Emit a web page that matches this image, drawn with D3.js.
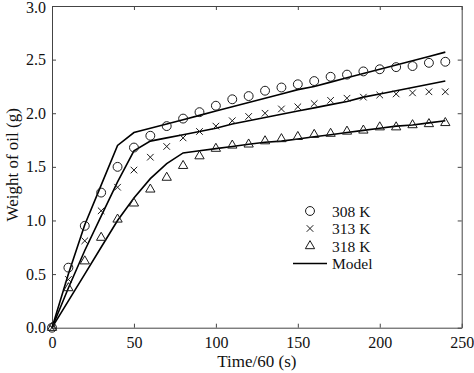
<!DOCTYPE html>
<html>
<head>
<meta charset="utf-8">
<script src="https://cdn.jsdelivr.net/npm/d3@7"></script>
<style>
  body { margin: 0; background: #fff; }
  svg text { font-family: "Liberation Serif", "DejaVu Serif", serif; fill: #111; }
</style>
</head>
<body>
<div id="area"></div>
<script>
var width = 474, height = 373;
var margin = {left: 52, top: 6, right: 12, bottom: 45};

// time points (min)
var times = [0, 10, 20, 30, 40, 50, 60, 70, 80, 90, 100, 110, 120, 130, 140, 150, 160, 170, 180, 190, 200, 210, 220, 230, 240];

// measured weight of oil (g)
var exp308 = [0, 0.56, 0.95, 1.26, 1.50, 1.68, 1.79, 1.88, 1.95, 2.01, 2.07, 2.13, 2.16, 2.21, 2.24, 2.27, 2.30, 2.34, 2.36, 2.39, 2.41, 2.43, 2.44, 2.47, 2.48];
var exp313 = [0, 0.45, 0.81, 1.09, 1.31, 1.47, 1.59, 1.69, 1.77, 1.83, 1.88, 1.93, 1.97, 2.00, 2.04, 2.06, 2.09, 2.12, 2.14, 2.15, 2.17, 2.18, 2.19, 2.20, 2.20];
var exp318 = [0, 0.37, 0.62, 0.84, 1.01, 1.16, 1.29, 1.40, 1.51, 1.60, 1.67, 1.70, 1.71, 1.74, 1.76, 1.78, 1.80, 1.81, 1.83, 1.84, 1.87, 1.87, 1.89, 1.90, 1.91];

// model curves
var mod308 = [0, 0.50, 0.96, 1.33, 1.70, 1.82, 1.86, 1.90, 1.94, 1.98, 2.02, 2.06, 2.10, 2.14, 2.18, 2.22, 2.25, 2.29, 2.33, 2.37, 2.41, 2.45, 2.49, 2.53, 2.57];
var mod313 = [0, 0.37, 0.72, 1.04, 1.36, 1.65, 1.74, 1.77, 1.80, 1.83, 1.86, 1.90, 1.93, 1.96, 1.99, 2.02, 2.05, 2.08, 2.11, 2.15, 2.18, 2.21, 2.24, 2.27, 2.30];
var mod318 = [0, 0.25, 0.50, 0.75, 1.00, 1.21, 1.39, 1.53, 1.63, 1.65, 1.67, 1.69, 1.71, 1.73, 1.74, 1.76, 1.78, 1.80, 1.82, 1.84, 1.86, 1.88, 1.89, 1.91, 1.93];

var xTicks = [0, 50, 100, 150, 200, 250];
var yTicks = [0, 0.5, 1.0, 1.5, 2.0, 2.5, 3.0];
var legendLabels = ['308 K', '313 K', '318 K', 'Model'];

var svg = d3.select('#area').append('svg')
    .attr('width', width).attr('height', height);

var x = d3.scaleLinear().domain([0, 250]).range([margin.left, width - margin.right - 0.3]);
var y = d3.scaleLinear().domain([0, 3]).range([height - margin.bottom - 0.3, margin.top]);

var ink = '#1a1a1a';

// axes box, ticks pointing inward on all sides
var axisB = d3.axisBottom(x).tickValues(xTicks).tickFormat(d3.format('d')).tickSizeInner(-4).tickSizeOuter(0).tickPadding(9);
var axisT = d3.axisTop(x).tickValues(xTicks).tickFormat('').tickSizeInner(-4).tickSizeOuter(0);
var axisL = d3.axisLeft(y).tickValues(yTicks).tickFormat(d3.format('.1f')).tickSizeInner(-4).tickSizeOuter(0).tickPadding(6);
var axisR = d3.axisRight(y).tickValues(yTicks).tickFormat('').tickSizeInner(-4).tickSizeOuter(0);

function styleAxis(g) {
  g.selectAll('path, line').attr('stroke', '#444').attr('stroke-width', 1);
  g.selectAll('text').attr('font-size', 16).attr('fill', '#222')
    .style('font-family', '"Liberation Serif", serif');
}

svg.append('g').attr('transform', 'translate(0,' + y(0) + ')').call(axisB).call(styleAxis);
svg.append('g').attr('transform', 'translate(0,' + y(3) + ')').call(axisT).call(styleAxis);
var gL = svg.append('g').attr('transform', 'translate(' + x(0) + ',0)').call(axisL).call(styleAxis);
// keep the top label inside the picture
gL.selectAll('.tick text').filter(function(d) { return d === 3; }).attr('dy', '0.42em');
svg.append('g').attr('transform', 'translate(' + x(250) + ',0)').call(axisR).call(styleAxis);

// axis titles
svg.append('text')
    .attr('x', (x(0) + x(250)) / 2).attr('y', 367)
    .attr('text-anchor', 'middle').attr('font-size', 17)
    .text('Time/60 (s)');
svg.append('text')
    .attr('transform', 'translate(18,' + (y(1.5) - 2) + ') rotate(-90)')
    .attr('text-anchor', 'middle').attr('font-size', 17)
    .text('Weight of oil (g)');

// model lines
var line = d3.line().x(function(d) { return x(d[0]); }).y(function(d) { return y(d[1]); });
[mod308, mod313, mod318].forEach(function(m) {
  svg.append('path')
      .datum(times.map(function(t, i) { return [t, m[i]]; }))
      .attr('d', line)
      .attr('fill', 'none')
      .attr('stroke', '#000')
      .attr('stroke-width', 1.6);
});

// markers
var circleSym = d3.symbol().type(d3.symbolCircle).size(62);
var crossSym = d3.symbol().type(d3.symbolTimes).size(30);
var triSym = d3.symbol().type(d3.symbolTriangle2).size(62);

function drawMarkers(vals, sym) {
  svg.append('g').selectAll('path')
      .data(times.map(function(t, i) { return [t, vals[i]]; }))
      .enter().append('path')
      .attr('transform', function(d) { return 'translate(' + x(d[0]) + ',' + y(d[1]) + ')'; })
      .attr('d', sym)
      .attr('fill', 'none')
      .attr('stroke', ink)
      .attr('stroke-width', 1);
}
drawMarkers(exp308, circleSym);
drawMarkers(exp313, crossSym);
drawMarkers(exp318, triSym);

// legend
var legend = svg.append('g').attr('transform', 'translate(310,211)');
var syms = [circleSym, crossSym, triSym];
legendLabels.forEach(function(lab, i) {
  var gy = i * 17.5;
  if (i < 3) {
    legend.append('path')
        .attr('transform', 'translate(0,' + gy + ')')
        .attr('d', syms[i])
        .attr('fill', 'none').attr('stroke', ink).attr('stroke-width', 1);
  } else {
    legend.append('line')
        .attr('x1', -17).attr('x2', 17).attr('y1', gy).attr('y2', gy)
        .attr('stroke', '#000').attr('stroke-width', 1.6);
  }
  legend.append('text')
      .attr('x', 22).attr('y', gy + 5.5)
      .attr('font-size', 15.5)
      .text(lab);
});
</script>
</body>
</html>
